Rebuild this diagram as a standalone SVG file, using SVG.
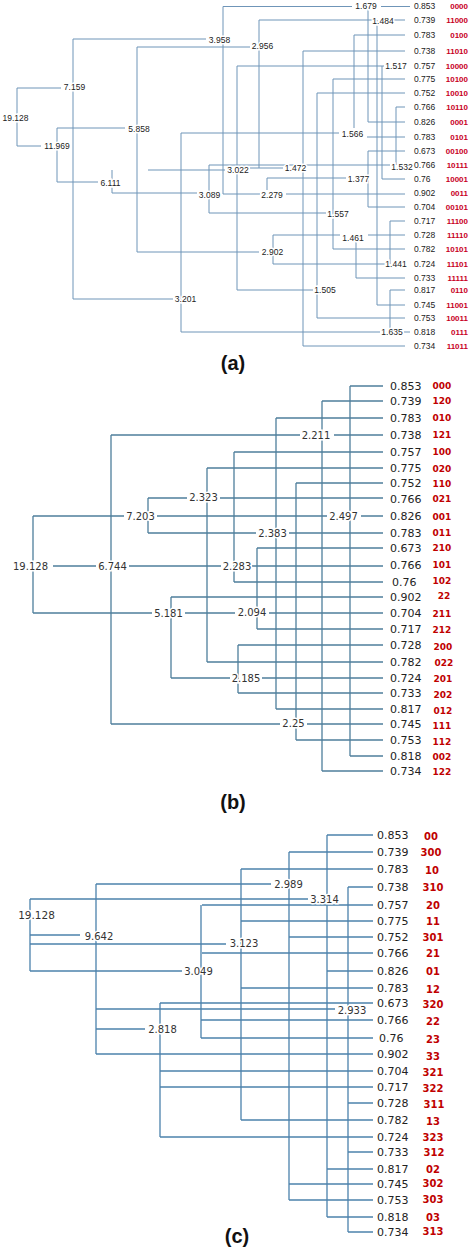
<svg xmlns="http://www.w3.org/2000/svg" width="474" height="1247" viewBox="0 0 474 1247">
<style>
.ca{fill:none;stroke:#6f95b8;stroke-width:1}
.cb{fill:none;stroke:#4f7f9c;stroke-width:1.3}
.cc{fill:none;stroke:#4c82ac;stroke-width:1.3}
text{dominant-baseline:central}
.na{font-family:"Liberation Sans",Arial,sans-serif;font-size:8.5px;fill:#222;text-anchor:middle;stroke:#fff;stroke-width:3;paint-order:stroke}
.va{font-family:"Liberation Sans",Arial,sans-serif;font-size:8.5px;fill:#222}
.ka{font-family:"Liberation Sans",Arial,sans-serif;font-size:8px;font-weight:bold;fill:#c8001e;text-anchor:end}
.nb{font-family:"DejaVu Sans",Verdana,sans-serif;font-size:10px;fill:#333;text-anchor:middle;stroke:#fff;stroke-width:3;paint-order:stroke}
.vb{font-family:"DejaVu Sans",Verdana,sans-serif;font-size:11px;fill:#222}
.kb{font-family:"DejaVu Sans",Verdana,sans-serif;font-size:9px;font-weight:bold;fill:#c00000;text-anchor:middle}
.kc{font-family:"DejaVu Sans",Verdana,sans-serif;font-size:10px;font-weight:bold;fill:#c00000;text-anchor:middle}
.pl{font-family:"Liberation Sans",Arial,sans-serif;font-size:20px;font-weight:bold;fill:#111;text-anchor:middle;dominant-baseline:auto}
</style>

<!-- ===================== PANEL (a) ===================== -->
<g id="connectors-a" class="ca">
<path d="M223 6.5H352M381 6.5H410 M259 20H372M394 20H405 M354 35H405 M303 51H405 M237 66H384 M333 79H405 M317 93H405 M396 107H405 M368 122H405 M181 133H339 M367 137H405 M368 151H405 M209 165H390 M148 170H225 M250 168H283 M267 178H346 M382 179H405 M57 182H98 M112 193H197 M223 194H260M286 194H405 M368 207H405 M209 213H326 M390 221H405 M273 235H340M368 235H405 M333 249H405 M137 252H259 M273 264H385 M356 278H405 M390 290H405 M237 290H313 M73 299H173 M377 305H405 M317 318H405 M181 332H380M404 332H410 M303 346H405 M73 39H206 M137 47H250 M17 88H61 M57 128H125 M17 146H41"/>
<path d="M17 88V146 M57 128V182 M73 39V299 M112 170V193 M137 47V252 M181 133V332 M209 165V213 M223 6.5V194 M237 66V290 M259 20V168 M267 178V190 M273 235V264 M303 51V346 M317 93V318 M333 79V249 M354 35V128 M356 238V278 M368 6.5V122 M368 151V207 M377 20V305 M382 66V179 M390 221V264 M390 290V332 M396 107V165"/>
</g>

<g id="a-n19128"><text class="na" x="15.5" y="118">19.128</text></g>
<g id="a-n7159"><text class="na" x="74.5" y="87">7.159</text></g>
<g id="a-n11969"><text class="na" x="57" y="146">11.969</text></g>
<g id="a-n5858"><text class="na" x="139" y="129">5.858</text></g>
<g id="a-n6111"><text class="na" x="110.5" y="183">6.111</text></g>
<g id="a-n3958"><text class="na" x="219.5" y="40">3.958</text></g>
<g id="a-n3022"><text class="na" x="238" y="170">3.022</text></g>
<g id="a-n3089"><text class="na" x="209.5" y="195">3.089</text></g>
<g id="a-n3201"><text class="na" x="185.5" y="299">3.201</text></g>
<g id="a-n2956"><text class="na" x="262.5" y="46">2.956</text></g>
<g id="a-n1472"><text class="na" x="295.5" y="168">1.472</text></g>
<g id="a-n2279"><text class="na" x="272" y="195">2.279</text></g>
<g id="a-n1377"><text class="na" x="358.5" y="179">1.377</text></g>
<g id="a-n1566"><text class="na" x="352.5" y="134">1.566</text></g>
<g id="a-n1679"><text class="na" x="366" y="6">1.679</text></g>
<g id="a-n1484"><text class="na" x="383" y="21">1.484</text></g>
<g id="a-n1517"><text class="na" x="396" y="66">1.517</text></g>
<g id="a-n1532"><text class="na" x="402" y="167">1.532</text></g>
<g id="a-n1557"><text class="na" x="338" y="214">1.557</text></g>
<g id="a-n1461"><text class="na" x="353" y="238">1.461</text></g>
<g id="a-n2902"><text class="na" x="272.5" y="252">2.902</text></g>
<g id="a-n1441"><text class="na" x="396" y="264">1.441</text></g>
<g id="a-n1505"><text class="na" x="325" y="290">1.505</text></g>
<g id="a-n1635"><text class="na" x="392" y="332">1.635</text></g>

<g id="a-l0000"><text class="va" x="414" y="6">0.853</text><text class="ka" x="468" y="6">0000</text></g>
<g id="a-l11000"><text class="va" x="414" y="20">0.739</text><text class="ka" x="468" y="20">11000</text></g>
<g id="a-l0100"><text class="va" x="414" y="35">0.783</text><text class="ka" x="468" y="35">0100</text></g>
<g id="a-l11010"><text class="va" x="414" y="51">0.738</text><text class="ka" x="468" y="51">11010</text></g>
<g id="a-l10000"><text class="va" x="414" y="66">0.757</text><text class="ka" x="468" y="66">10000</text></g>
<g id="a-l10100"><text class="va" x="414" y="79">0.775</text><text class="ka" x="468" y="79">10100</text></g>
<g id="a-l10010"><text class="va" x="414" y="93">0.752</text><text class="ka" x="468" y="93">10010</text></g>
<g id="a-l10110"><text class="va" x="414" y="107">0.766</text><text class="ka" x="468" y="107">10110</text></g>
<g id="a-l0001"><text class="va" x="414" y="122">0.826</text><text class="ka" x="468" y="122">0001</text></g>
<g id="a-l0101"><text class="va" x="414" y="137">0.783</text><text class="ka" x="468" y="137">0101</text></g>
<g id="a-l00100"><text class="va" x="414" y="151">0.673</text><text class="ka" x="468" y="151">00100</text></g>
<g id="a-l10111"><text class="va" x="414" y="165">0.766</text><text class="ka" x="468" y="165">10111</text></g>
<g id="a-l10001"><text class="va" x="414" y="179">0.76</text><text class="ka" x="468" y="179">10001</text></g>
<g id="a-l0011"><text class="va" x="414" y="193">0.902</text><text class="ka" x="468" y="193">0011</text></g>
<g id="a-l00101"><text class="va" x="414" y="207">0.704</text><text class="ka" x="468" y="207">00101</text></g>
<g id="a-l11100"><text class="va" x="414" y="221">0.717</text><text class="ka" x="468" y="221">11100</text></g>
<g id="a-l11110"><text class="va" x="414" y="235">0.728</text><text class="ka" x="468" y="235">11110</text></g>
<g id="a-l10101"><text class="va" x="414" y="249">0.782</text><text class="ka" x="468" y="249">10101</text></g>
<g id="a-l11101"><text class="va" x="414" y="264">0.724</text><text class="ka" x="468" y="264">11101</text></g>
<g id="a-l11111"><text class="va" x="414" y="278">0.733</text><text class="ka" x="468" y="278">11111</text></g>
<g id="a-l0110"><text class="va" x="414" y="290">0.817</text><text class="ka" x="468" y="290">0110</text></g>
<g id="a-l11001"><text class="va" x="414" y="305">0.745</text><text class="ka" x="468" y="305">11001</text></g>
<g id="a-l10011"><text class="va" x="414" y="318">0.753</text><text class="ka" x="468" y="318">10011</text></g>
<g id="a-l0111"><text class="va" x="414" y="332">0.818</text><text class="ka" x="468" y="332">0111</text></g>
<g id="a-l11011"><text class="va" x="414" y="346">0.734</text><text class="ka" x="468" y="346">11011</text></g>

<text class="pl" x="233" y="370">(a)</text>

<!-- ===================== PANEL (b) ===================== -->
<g id="connectors-b" class="cb">
<path d="M350 386H383 M322 401H383 M276 418H383 M111 435H300M334 435H383 M234 452H383 M207 468H383 M296 483H383 M148 498H187M220 498H383 M33 516H124M157 516H327M361 516H383 M148 533H256M289 533H383 M257 548H383 M53 566H96M129 566H221M252 566H383 M234 582H383 M171 597H383 M33 613H152M185 613H235M269 613H383 M257 629H383 M238 645H383 M207 662H383 M171 678H230M262 678H383 M238 693H383 M276 709H383 M111 724H280M307 724H383 M296 740H383 M350 756H383 M322 771H383"/>
<path d="M33 516V613 M111 435V724 M148 498V533 M171 597V678 M207 468V662 M234 452V582 M238 645V693 M257 548V629 M276 418V709 M296 483V740 M322 401V771 M350 386V756"/>
</g>

<g id="b-n19128"><text class="nb" x="30.5" y="566">19.128</text></g>
<g id="b-n6744"><text class="nb" x="112.5" y="566">6.744</text></g>
<g id="b-n7203"><text class="nb" x="140.5" y="516">7.203</text></g>
<g id="b-n5181"><text class="nb" x="168.5" y="613">5.181</text></g>
<g id="b-n2323"><text class="nb" x="203.5" y="497">2.323</text></g>
<g id="b-n2283"><text class="nb" x="237" y="566">2.283</text></g>
<g id="b-n2211"><text class="nb" x="316" y="435">2.211</text></g>
<g id="b-n2497"><text class="nb" x="343.5" y="516">2.497</text></g>
<g id="b-n2383"><text class="nb" x="272.5" y="533">2.383</text></g>
<g id="b-n2094"><text class="nb" x="252" y="612">2.094</text></g>
<g id="b-n2185"><text class="nb" x="246" y="678">2.185</text></g>
<g id="b-n225"><text class="nb" x="293.5" y="723">2.25</text></g>

<g id="b-l000"><text class="vb" x="390" y="386">0.853</text><text class="kb" x="442" y="386">000</text></g>
<g id="b-l120"><text class="vb" x="390" y="401">0.739</text><text class="kb" x="442" y="401">120</text></g>
<g id="b-l010"><text class="vb" x="390" y="418">0.783</text><text class="kb" x="442" y="418">010</text></g>
<g id="b-l121"><text class="vb" x="390" y="435">0.738</text><text class="kb" x="442" y="435">121</text></g>
<g id="b-l100"><text class="vb" x="390" y="452">0.757</text><text class="kb" x="442" y="452">100</text></g>
<g id="b-l020"><text class="vb" x="390" y="468">0.775</text><text class="kb" x="442" y="469">020</text></g>
<g id="b-l110"><text class="vb" x="390" y="483">0.752</text><text class="kb" x="442" y="484">110</text></g>
<g id="b-l021"><text class="vb" x="390" y="499">0.766</text><text class="kb" x="442" y="499">021</text></g>
<g id="b-l001"><text class="vb" x="390" y="516">0.826</text><text class="kb" x="442" y="517">001</text></g>
<g id="b-l011"><text class="vb" x="390" y="533">0.783</text><text class="kb" x="442" y="533">011</text></g>
<g id="b-l210"><text class="vb" x="390" y="548">0.673</text><text class="kb" x="442" y="548">210</text></g>
<g id="b-l101"><text class="vb" x="390" y="565">0.766</text><text class="kb" x="442" y="565">101</text></g>
<g id="b-l102"><text class="vb" x="392" y="582">0.76</text><text class="kb" x="442" y="581">102</text></g>
<g id="b-l22"><text class="vb" x="390" y="597">0.902</text><text class="kb" x="444" y="596">22</text></g>
<g id="b-l211"><text class="vb" x="390" y="613">0.704</text><text class="kb" x="442" y="614">211</text></g>
<g id="b-l212"><text class="vb" x="390" y="629">0.717</text><text class="kb" x="442" y="630">212</text></g>
<g id="b-l200"><text class="vb" x="390" y="645">0.728</text><text class="kb" x="443" y="647">200</text></g>
<g id="b-l022"><text class="vb" x="390" y="662">0.782</text><text class="kb" x="444" y="663">022</text></g>
<g id="b-l201"><text class="vb" x="390" y="678">0.724</text><text class="kb" x="443" y="679">201</text></g>
<g id="b-l202"><text class="vb" x="390" y="693">0.733</text><text class="kb" x="443" y="695">202</text></g>
<g id="b-l012"><text class="vb" x="390" y="709">0.817</text><text class="kb" x="443" y="711">012</text></g>
<g id="b-l111"><text class="vb" x="390" y="724">0.745</text><text class="kb" x="442" y="726">111</text></g>
<g id="b-l112"><text class="vb" x="390" y="740">0.753</text><text class="kb" x="442" y="742">112</text></g>
<g id="b-l002"><text class="vb" x="390" y="756">0.818</text><text class="kb" x="442" y="757">002</text></g>
<g id="b-l122"><text class="vb" x="390" y="771">0.734</text><text class="kb" x="442" y="772">122</text></g>

<text class="pl" x="233" y="809">(b)</text>

<!-- ===================== PANEL (c) ===================== -->
<g id="connectors-c" class="cc">
<path d="M327 835H373 M289 852H373 M241 869H373 M348 887H373 M202 905H373 M241 921H373 M289 937H373 M202 953H373 M327 971H373 M241 988H373 M160 1003H373 M201 1020H373 M201 1038H373 M96 1054H373 M160 1071H373 M160 1087H373 M348 1103H373 M241 1120H373 M160 1137H373 M348 1152H373 M327 1169H373 M289 1184H373 M289 1200H373 M327 1217H373 M348 1232H373 M96 884H271 M30 899H308 M30 935H80 M30 944H226 M30 971H182 M96 1009H335 M96 1029H145"/>
<path d="M30 899V971 M96 884V1054 M160 1003V1137 M201 905V1038 M241 869V1120 M289 852V1200 M327 835V1217 M348 887V1232"/>
</g>

<g id="c-n19128"><text class="nb" x="36.5" y="915" style="font-size:10.5px">19.128</text></g>
<g id="c-n9642"><text class="nb" x="99" y="936">9.642</text></g>
<g id="c-n2989"><text class="nb" x="288.5" y="884">2.989</text></g>
<g id="c-n3314"><text class="nb" x="324.5" y="899">3.314</text></g>
<g id="c-n3123"><text class="nb" x="244" y="943">3.123</text></g>
<g id="c-n3049"><text class="nb" x="198.5" y="971">3.049</text></g>
<g id="c-n2933"><text class="nb" x="352" y="1010">2.933</text></g>
<g id="c-n2818"><text class="nb" x="162.5" y="1029">2.818</text></g>

<g id="c-l00"><text class="vb" x="377" y="835">0.853</text><text class="kc" x="431" y="836">00</text></g>
<g id="c-l300"><text class="vb" x="377" y="852">0.739</text><text class="kc" x="431" y="852">300</text></g>
<g id="c-l10"><text class="vb" x="377" y="869">0.783</text><text class="kc" x="432" y="870">10</text></g>
<g id="c-l310"><text class="vb" x="377" y="887">0.738</text><text class="kc" x="433" y="887">310</text></g>
<g id="c-l20"><text class="vb" x="377" y="905">0.757</text><text class="kc" x="433" y="905">20</text></g>
<g id="c-l11"><text class="vb" x="377" y="921">0.775</text><text class="kc" x="433" y="921">11</text></g>
<g id="c-l301"><text class="vb" x="377" y="937">0.752</text><text class="kc" x="433" y="937">301</text></g>
<g id="c-l21"><text class="vb" x="377" y="953">0.766</text><text class="kc" x="433" y="953">21</text></g>
<g id="c-l01"><text class="vb" x="377" y="971">0.826</text><text class="kc" x="433" y="971">01</text></g>
<g id="c-l12"><text class="vb" x="377" y="988">0.783</text><text class="kc" x="433" y="989">12</text></g>
<g id="c-l320"><text class="vb" x="377" y="1003">0.673</text><text class="kc" x="433" y="1004">320</text></g>
<g id="c-l22"><text class="vb" x="377" y="1020">0.766</text><text class="kc" x="433" y="1021">22</text></g>
<g id="c-l23"><text class="vb" x="379" y="1038">0.76</text><text class="kc" x="433" y="1039">23</text></g>
<g id="c-l33"><text class="vb" x="377" y="1054">0.902</text><text class="kc" x="433" y="1056">33</text></g>
<g id="c-l321"><text class="vb" x="377" y="1071">0.704</text><text class="kc" x="433" y="1072">321</text></g>
<g id="c-l322"><text class="vb" x="377" y="1087">0.717</text><text class="kc" x="433" y="1088">322</text></g>
<g id="c-l311"><text class="vb" x="377" y="1103">0.728</text><text class="kc" x="434" y="1104">311</text></g>
<g id="c-l13"><text class="vb" x="377" y="1120">0.782</text><text class="kc" x="433" y="1121">13</text></g>
<g id="c-l323"><text class="vb" x="377" y="1137">0.724</text><text class="kc" x="433" y="1137">323</text></g>
<g id="c-l312"><text class="vb" x="377" y="1152">0.733</text><text class="kc" x="434" y="1152">312</text></g>
<g id="c-l02"><text class="vb" x="377" y="1169">0.817</text><text class="kc" x="433" y="1169">02</text></g>
<g id="c-l302"><text class="vb" x="377" y="1184">0.745</text><text class="kc" x="433" y="1183">302</text></g>
<g id="c-l303"><text class="vb" x="377" y="1200">0.753</text><text class="kc" x="433" y="1199">303</text></g>
<g id="c-l03"><text class="vb" x="377" y="1217">0.818</text><text class="kc" x="433" y="1217">03</text></g>
<g id="c-l313"><text class="vb" x="377" y="1232">0.734</text><text class="kc" x="433" y="1231">313</text></g>

<text class="pl" x="237" y="1243">(c)</text>
</svg>
